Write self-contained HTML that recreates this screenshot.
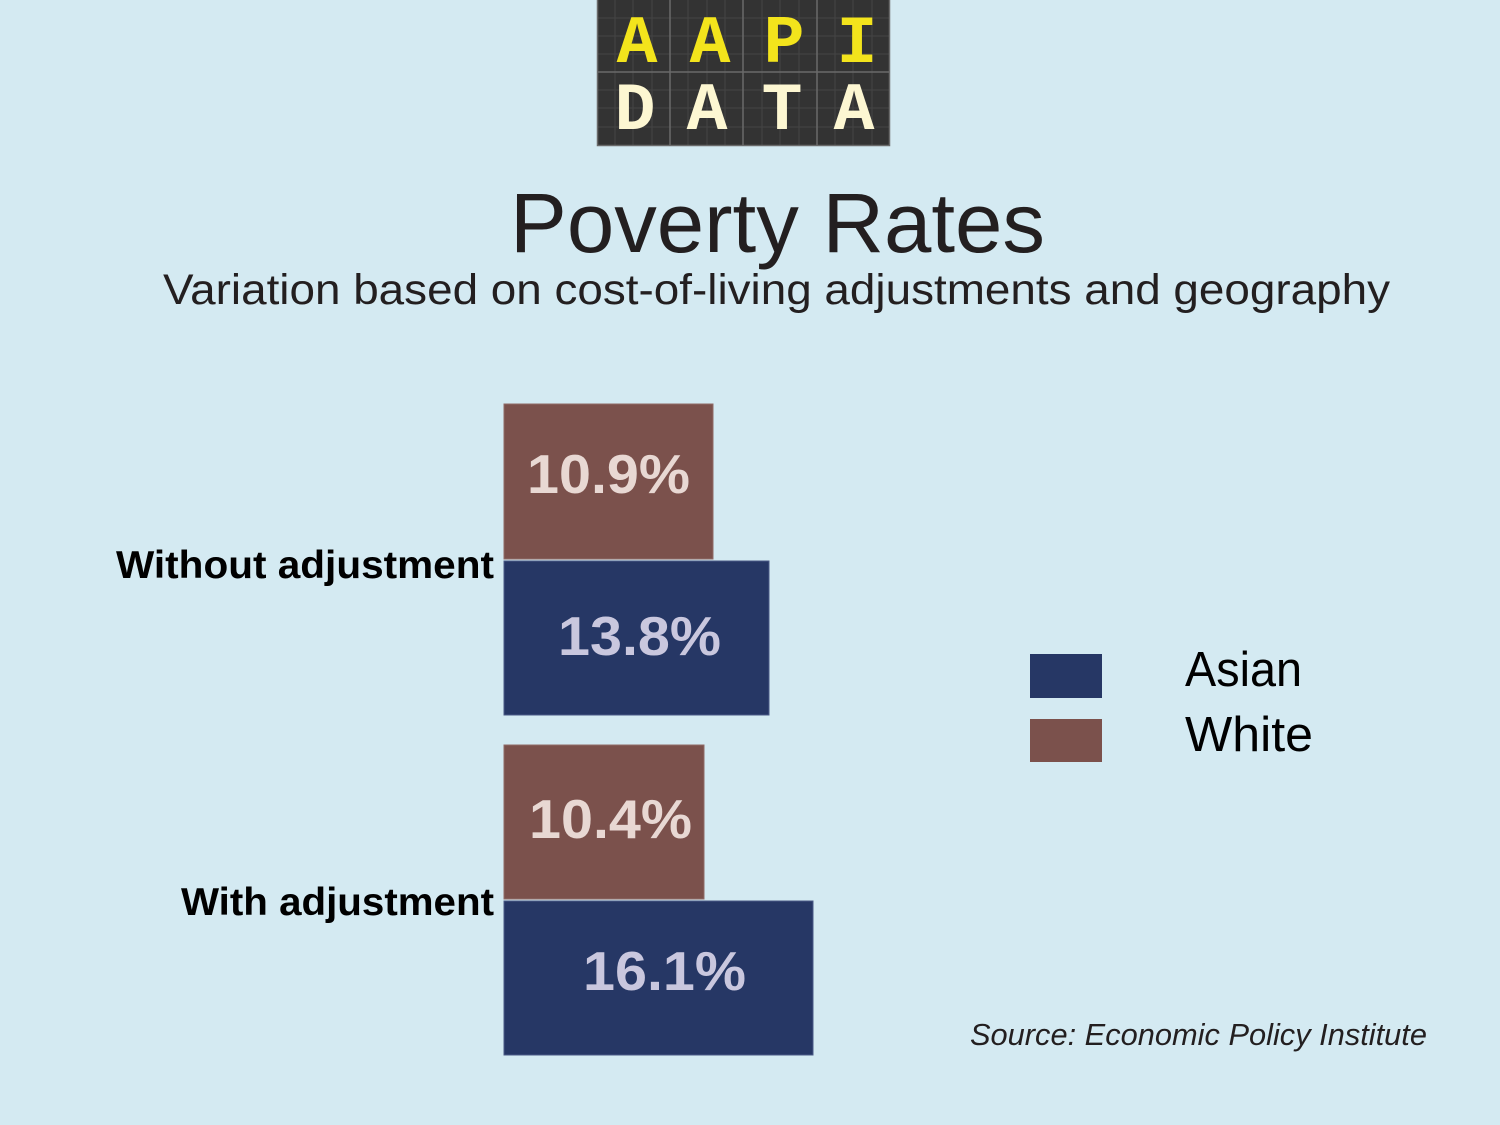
<!DOCTYPE html>
<html>
<head>
<meta charset="utf-8">
<style>
  html, body { margin:0; padding:0; background:#d4eaf2; }
  svg { display:block; }
</style>
</head>
<body>
<svg width="1500" height="1125" viewBox="0 0 1500 1125" xmlns="http://www.w3.org/2000/svg">
  <rect x="0" y="0" width="1500" height="1125" fill="#d4eaf2"/>

  <!-- Logo -->
  <rect x="597" y="0" width="293" height="146" fill="#333333"/>
  <g stroke="#454545" stroke-width="1">
    <line x1="615" y1="0" x2="615" y2="146"/><line x1="633" y1="0" x2="633" y2="146"/><line x1="652" y1="0" x2="652" y2="146"/>
    <line x1="688" y1="0" x2="688" y2="146"/><line x1="707" y1="0" x2="707" y2="146"/><line x1="725" y1="0" x2="725" y2="146"/>
    <line x1="762" y1="0" x2="762" y2="146"/><line x1="780" y1="0" x2="780" y2="146"/><line x1="799" y1="0" x2="799" y2="146"/>
    <line x1="835" y1="0" x2="835" y2="146"/><line x1="853" y1="0" x2="853" y2="146"/><line x1="872" y1="0" x2="872" y2="146"/>
    <line x1="597" y1="18" x2="890" y2="18"/><line x1="597" y1="36" x2="890" y2="36"/><line x1="597" y1="54" x2="890" y2="54"/>
    <line x1="597" y1="90" x2="890" y2="90"/><line x1="597" y1="108" x2="890" y2="108"/><line x1="597" y1="127" x2="890" y2="127"/>
  </g>
  <g stroke="#6a6a6a" stroke-width="1.5">
    <line x1="670" y1="0" x2="670" y2="146"/>
    <line x1="743" y1="0" x2="743" y2="146"/>
    <line x1="817" y1="0" x2="817" y2="146"/>
    <line x1="597" y1="72" x2="890" y2="72"/>
    <rect x="597.5" y="-1" width="292" height="146.5" fill="none"/>
  </g>
  <g font-family="'Liberation Mono', 'DejaVu Sans Mono', monospace" font-weight="bold" font-size="68" text-anchor="middle">
    <text x="637" y="62" fill="#f3e41c">A</text>
    <text x="710" y="62" fill="#f3e41c">A</text>
    <text x="784" y="62" fill="#f3e41c">P</text>
    <text x="857" y="62" fill="#f3e41c">I</text>
    <text x="635" y="129" fill="#fdf7d2">D</text>
    <text x="707" y="129" fill="#fdf7d2">A</text>
    <text x="782" y="129" fill="#fdf7d2">T</text>
    <text x="854" y="129" fill="#fdf7d2">A</text>
  </g>

  <!-- Title -->
  <text x="510" y="252" font-family="'Liberation Sans', sans-serif" font-size="84" fill="#231f20" textLength="535" lengthAdjust="spacingAndGlyphs">Poverty Rates</text>
  <text x="163" y="304" font-family="'Liberation Sans', sans-serif" font-size="43" fill="#231f20" textLength="1227" lengthAdjust="spacingAndGlyphs">Variation based on cost-of-living adjustments and geography</text>

  <!-- Bars -->
  <rect x="504" y="404" width="209" height="155" fill="#7b514c" stroke="#8f6a66" stroke-width="1"/>
  <rect x="504" y="561" width="265" height="154" fill="#263765" stroke="#4a5a86" stroke-width="1"/>
  <rect x="504" y="745" width="200" height="154" fill="#7b514c" stroke="#8f6a66" stroke-width="1"/>
  <rect x="504" y="901" width="309" height="154" fill="#263765" stroke="#4a5a86" stroke-width="1"/>

  <g font-family="'Liberation Sans', sans-serif" font-weight="bold" font-size="55">
    <text x="527" y="493" fill="#e8d8d3" textLength="163" lengthAdjust="spacingAndGlyphs">10.9%</text>
    <text x="558" y="655" fill="#c9c7de" textLength="163" lengthAdjust="spacingAndGlyphs">13.8%</text>
    <text x="529" y="838" fill="#e8d8d3" textLength="163" lengthAdjust="spacingAndGlyphs">10.4%</text>
    <text x="583" y="990" fill="#c9c7de" textLength="163" lengthAdjust="spacingAndGlyphs">16.1%</text>
  </g>

  <!-- Category labels -->
  <g font-family="'Liberation Sans', sans-serif" font-weight="bold" font-size="39" fill="#000">
    <text x="116" y="578" textLength="378" lengthAdjust="spacingAndGlyphs">Without adjustment</text>
    <text x="181" y="915" textLength="313" lengthAdjust="spacingAndGlyphs">With adjustment</text>
  </g>

  <!-- Legend -->
  <rect x="1030" y="654" width="72" height="44" fill="#263765"/>
  <rect x="1030" y="719" width="72" height="43" fill="#7b514c"/>
  <g font-family="'Liberation Sans', sans-serif" font-size="49" fill="#000">
    <text x="1185" y="686" textLength="117" lengthAdjust="spacingAndGlyphs">Asian</text>
    <text x="1185" y="751" textLength="128" lengthAdjust="spacingAndGlyphs">White</text>
  </g>

  <!-- Source -->
  <text x="970" y="1045" font-family="'Liberation Sans', sans-serif" font-style="italic" font-size="31" fill="#231f20" textLength="457" lengthAdjust="spacingAndGlyphs">Source: Economic Policy Institute</text>
</svg>
</body>
</html>
